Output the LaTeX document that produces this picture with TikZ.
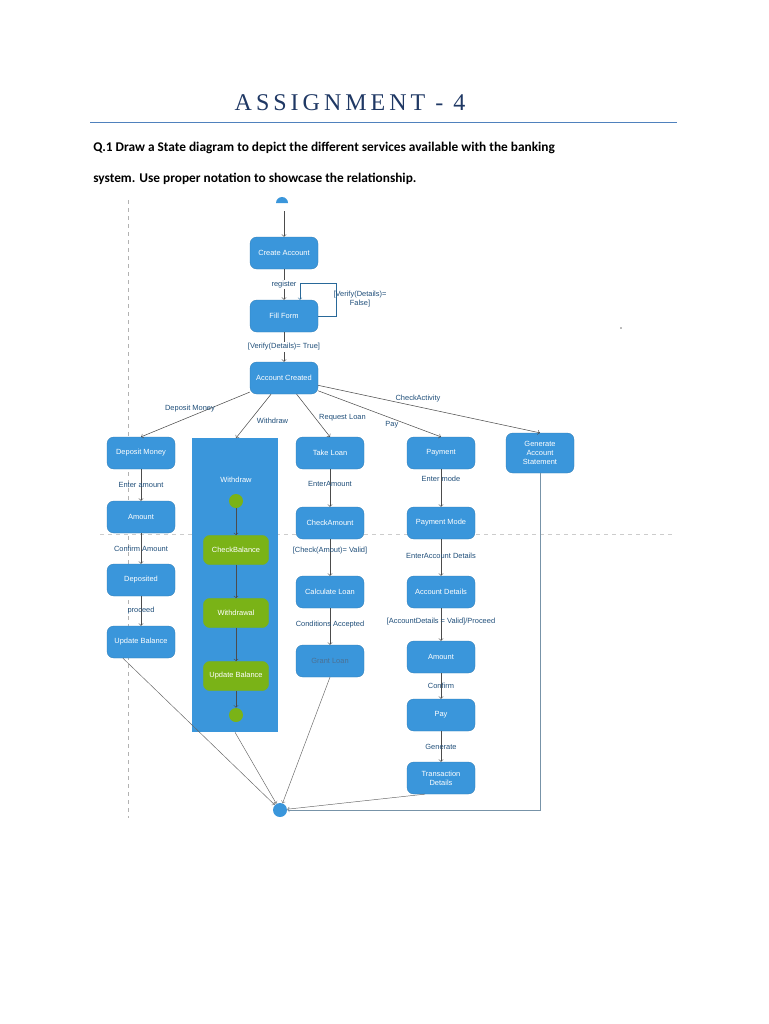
\documentclass[tikz,border=0pt]{standalone}
\usepackage{fontspec}
\setmainfont{Liberation Sans}
\newfontfamily\titlefont{Liberation Serif}
\newfontfamily\qfont{Carlito}
\usetikzlibrary{arrows,positioning}
\definecolor{stblue}{HTML}{3A96DB}
\definecolor{stgreen}{HTML}{7AB317}
\definecolor{lbltext}{HTML}{1F4E79}
\definecolor{titleblue}{HTML}{1F3864}
\definecolor{ruleblue}{HTML}{4F81BD}
\begin{document}
\begin{tikzpicture}[x=0.75pt,y=-0.75pt]
\tikzset{
	    state/.style={rectangle,rounded corners=5pt,fill=stblue,draw=stblue!80!black,line width=0.2pt,text=white,font=\fontsize{5.6}{6.5}\selectfont,minimum width=51pt,minimum height=24pt,align=center,inner sep=1pt},
	    inner/.style={state,fill=stgreen,draw=stgreen,minimum width=49pt,minimum height=22pt},
	    trans/.style={->, >=to, draw=black!70, line width=0.4pt},
	    finline/.style={draw=black!60, line width=0.35pt},
	    mylabel/.style={font=\fontsize{5.6}{6.5}\selectfont, text=lbltext, align=center, inner sep=1pt}
	}
\useasboundingbox (0,0) rectangle (768,1024);
% header
\node[font=\titlefont\fontsize{18}{20}\selectfont, text=titleblue, anchor=west] (title) at (230,103) {A\,S\,S\,I\,G\,N\,M\,E\,N\,T\, -\, 4};
\draw[ruleblue, line width=0.6pt] (90,122) -- (677,122);
\node[font=\qfont\bfseries\fontsize{10}{12}\selectfont, anchor=west, inner sep=0] (q1) at (93,148) {Q.1 Draw a State diagram to depict the different services available with the banking};
\node[font=\qfont\bfseries\fontsize{10}{12}\selectfont, anchor=west, inner sep=0] (q2) at (93,179) {system. Use proper notation to showcase the relationship.};
% guides
\draw[black!30, dashed, line width=0.3pt] (128,200) -- (128,818);
\draw[black!20, dashed, line width=0.3pt] (100,534) -- (675,534);
\node[mylabel, text=black] (dot) at (621,329) {-};

% start
\fill[stblue] (276,203) arc[start angle=180, end angle=360, radius=6] -- cycle;
\coordinate (start) at (284,211);
\node[state] (create) at (284,253) {Create Account};
\node[state] (fill) at (284,316) {Fill Form};
\node[state] (created) at (284,378) {Account Created};
\draw[trans] (start) -- (create);
\draw[trans] (create) -- node[mylabel, fill=white] {register} (fill);
\draw[trans] (created.north) ++(0,0) (fill) -- node[mylabel, fill=white] {[Verify(Details)= True]} (created);
\draw[->, >=to, draw=stblue!70!black, line width=0.35pt] (fill.east) -- ++(18,0) |- (300,283) -- (fill.north -| 300,0);
\node[mylabel] (falselbl) at (360,299) {[Verify(Details)=\\False]};

% column nodes
\node[state] (depmoney) at (141,453) {Deposit Money};
\node[rectangle, fill=stblue, minimum width=64.5pt, minimum height=220.5pt, inner sep=0] (withdraw) at (235,585) {};
\node[mylabel, text=white] (wtitle) at (236,480) {Withdraw};
\node[state] (takeloan) at (330,453) {Take Loan};
\node[state] (payment) at (441,453) {Payment};
\node[state, minimum height=30pt] (genstmt) at (540,453) {Generate\\Account\\Statement};

\draw[trans] (created) -- node[mylabel, pos=0.55, above=2pt] {Deposit Money} (depmoney.north);
\draw[trans] (created) -- node[mylabel, pos=0.6, right=4pt] {Withdraw} (236,438);
\draw[trans] (created) -- node[mylabel, pos=0.55, right=2pt] {Request Loan} (takeloan.north);
\draw[trans] (created) -- node[mylabel, pos=0.6, below=1pt] {Pay} (payment.north);
\draw[trans] (created) -- node[mylabel, pos=0.45, above=2pt] {CheckActivity} (genstmt.north);

% deposit
\node[state] (amount1) at (141,517) {Amount};
\node[state] (deposited) at (141,580) {Deposited};
\node[state] (updbal1) at (141,642) {Update Balance};
\draw[trans] (depmoney) -- node[mylabel] {Enter amount} (amount1);
\draw[trans] (amount1) -- node[mylabel] {Confirm Amount} (deposited);
\draw[trans] (deposited) -- node[mylabel] {proceed} (updbal1);

% withdraw
\node[circle, fill=stgreen, minimum size=10.5pt, inner sep=0] (winit) at (236,501) {};
\node[inner] (checkbal) at (236,550) {CheckBalance};
\node[inner] (withdrawal) at (236,613) {Withdrawal};
\node[inner] (updbal2) at (236,676) {Update Balance};
\node[circle, fill=stgreen, minimum size=10.5pt, inner sep=0] (wfinal) at (236,715) {};
\draw[trans] (winit) -- (checkbal);
\draw[trans] (checkbal) -- (withdrawal);
\draw[trans] (withdrawal) -- (updbal2);
\draw[trans] (updbal2) -- (wfinal);

% loan
\node[state] (checkamt) at (330,523) {CheckAmount};
\node[state] (calcloan) at (330,592) {Calculate Loan};
\node[state, text=lbltext!80] (grant) at (330,661) {Grant Loan};
\draw[trans] (takeloan) -- node[mylabel, pos=0.4] {EnterAmount} (checkamt);
\draw[trans] (checkamt) -- node[mylabel, pos=0.3] {[Check(Amout)= Valid]} (calcloan);
\draw[trans] (calcloan) -- node[mylabel, pos=0.45] {Conditions Accepted} (grant);

% payment
\node[state] (paymode) at (441,523) {Payment Mode};
\node[state] (accdet) at (441,592) {Account Details};
\node[state] (amount2) at (441,657) {Amount};
\node[state] (pay) at (441,715) {Pay};
\node[state] (transdet) at (441,778) {Transaction\\Details};
\draw[trans] (payment) -- node[mylabel, pos=0.25] {Enter mode} (paymode);
\draw[trans] (paymode) -- node[mylabel, pos=0.45] {EnterAccount Details} (accdet);
\draw[trans] (accdet) -- node[mylabel, pos=0.4] {[AccountDetails = Valid]/Proceed} (amount2);
\draw[trans] (amount2) -- node[mylabel] {Confirm} (pay);
\draw[trans] (pay) -- node[mylabel] {Generate} (transdet);

% final
\node[circle, fill=stblue, minimum size=10.5pt, inner sep=0] (final) at (280,810) {};
\draw[trans, finline] (updbal1.south west) ++(16,0) -- (final);
\draw[trans, finline] (withdraw.south) -- (final);
\draw[trans, finline] (grant.south) -- (final);
\draw[trans, finline] (transdet.south) ++(-16,0) -- (final);
\draw[->, >=to, draw=stblue!50!black!60, line width=0.35pt] (genstmt.south) |- (final.east);
\end{tikzpicture}
\end{document}
